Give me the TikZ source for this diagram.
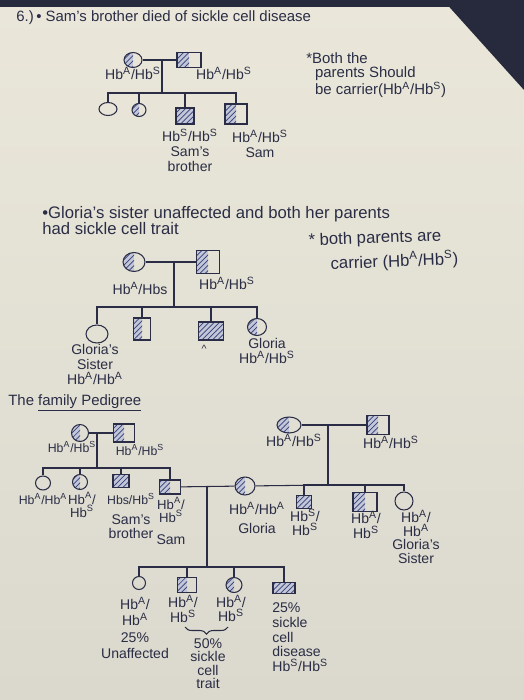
\documentclass[tikz,border=0pt]{standalone}
\usepackage{fontspec}
\setmainfont{Liberation Sans}
\usetikzlibrary{shapes.geometric,patterns,decorations.pathreplacing}
\definecolor{ink}{HTML}{2A2D45}
\definecolor{hatch}{HTML}{34407A}
\definecolor{paperA}{HTML}{EAE7DA}
\definecolor{paperB}{HTML}{DBD9CE}
\definecolor{desk}{HTML}{272A3D}
\newcommand{\hb}[1]{Hb\textsuperscript{#1}}

\begin{document}
\begin{tikzpicture}[x=0.02cm,y=-0.02cm]
    \tikzset{
        female/.style={draw=ink, ellipse, inner sep=0, line width=0.6pt},
        male/.style={draw=ink, rectangle, inner sep=0, line width=0.6pt},
        sz/.style 2 args={minimum width=#1*0.02cm, minimum height=#2*0.02cm},
        carrier/.style={path picture={
            \fill[hatch!30] (path picture bounding box.south west) rectangle (path picture bounding box.north);
            \fill[pattern=north east lines, pattern color=hatch] (path picture bounding box.south west) rectangle (path picture bounding box.north);}},
        affected/.style={path picture={
            \fill[hatch!30] (path picture bounding box.south west) rectangle (path picture bounding box.north east);
            \fill[pattern=north east lines, pattern color=hatch] (path picture bounding box.south west) rectangle (path picture bounding box.north east);}},
        lbl/.style={text=ink, inner sep=0, font=\fontsize{8}{8.5}\selectfont, align=center},
        small/.style={font=\fontsize{7}{8}\selectfont},
        note/.style={text=ink, inner sep=0, font=\fontsize{8.5}{8}\selectfont, align=left},
        head/.style={text=ink, inner sep=0, font=\fontsize{9.5}{9}\selectfont, align=left},
        link/.style={draw=ink, line width=0.6pt}
    }
    % paper
    \useasboundingbox (0,0) rectangle (524,700);
    \fill[top color=paperA, bottom color=paperB] (0,0) rectangle (524,700);
    \fill[desk] (0,0) rectangle (524,7);
    \fill[desk] (443,0) -- (524,0) -- (524,90) -- cycle;

    % Sam's family
    \draw node[head, anchor=west, font=\fontsize{8.5}{9}\selectfont] (t1) at (16,18) {6.)\,• Sam's brother died of sickle cell disease};
    \draw node[female, carrier, sz={18}{15}] (m1) at (133,60) {};
    \draw node[male, carrier, sz={24}{15}] (f1) at (189,60) {};
    \draw node[female, sz={18}{13}] (s1a) at (108,109) {};
    \draw node[female, carrier, sz={14}{13}] (s1b) at (139,110) {};
    \draw node[male, affected, sz={18}{16}] (s1c) at (185,116) {};
    \draw node[male, carrier, sz={22}{20}] (s1d) at (236,114) {};
    \coordinate (c1) at (162,60);
    \coordinate (d1) at (162,93);
    \draw node[lbl] (m1g) at (133,73) {\hb{A}/\hb{S}};
    \draw node[lbl] (f1g) at (224,73) {\hb{A}/\hb{S}};
    \draw node[lbl, anchor=north] (s1cg) at (190,129) {\hb{S}/\hb{S}\\Sam's\\brother};
    \draw node[lbl, anchor=north] (s1dg) at (260,130) {\hb{A}/\hb{S}\\Sam};
    \draw node[note, anchor=north west, font=\fontsize{8.5}{8.3}\selectfont] (n1) at (306,52) {*Both the\\\hspace*{5pt}parents Should\\\hspace*{5pt}be carrier(\hb{A}/\hb{S})};

    % Gloria's family
    \draw node[head, anchor=west] (t2) at (42,214) {•Gloria's sister unaffected and both her parents};
    \draw node[head, anchor=west] (t2b) at (42,229) {had sickle cell trait};
    \draw node[female, carrier, sz={22}{19}] (m2) at (134,262) {};
    \draw node[male, carrier, sz={23}{23}] (f2) at (208,262) {};
    \draw node[female, sz={22}{18}] (g2a) at (97,334) {};
    \draw node[male, carrier, sz={17}{22}] (g2b) at (142,329) {};
    \draw node[male, affected, sz={25}{18}] (g2c) at (211,331) {};
    \draw node[female, carrier, sz={19}{17}] (g2d) at (257,327) {};
    \coordinate (c2) at (174,262);
    \coordinate (d2) at (174,307);
    \draw node[lbl] (m2g) at (140,288) {\hb{A}/Hbs};
    \draw node[lbl] (f2g) at (227,283) {\hb{A}/\hb{S}};
    \draw node[lbl, font=\fontsize{6}{6}\selectfont] (mk) at (204,349) {\textasciicircum};
    \draw node[lbl, anchor=north, font=\fontsize{8}{8.4}\selectfont] (g2ag) at (95,344) {Gloria's\\Sister\\\hb{A}/\hb{A}};
    \draw node[lbl, anchor=north] (g2dg) at (267,338) {Gloria\\\hb{A}/\hb{S}};
    \draw node[head, anchor=north west, rotate=2] (n2) at (308,233) {* both parents are};
    \draw node[head, anchor=north west, rotate=2] (n2b) at (330,254) {carrier (\hb{A}/\hb{S})};

    % the family pedigree
    \draw node[note, anchor=west] (t3) at (8,403) {The \underline{family Pedigree}};
    \draw node[female, carrier, sz={17}{17}] (m3) at (80,433) {};
    \draw node[male, carrier, sz={21}{18}] (f3) at (124,433) {};
    \draw node[female, sz={15}{14}] (h1) at (43,483) {};
    \draw node[female, carrier, sz={15}{15}] (h2) at (80,482) {};
    \draw node[male, affected, sz={16}{13}] (h3) at (121,481) {};
    \draw node[male, carrier, sz={21}{14}] (sam) at (170,487) {};
    \draw node[female, carrier, sz={20}{18}] (g3) at (245,486) {};
    \draw node[female, carrier, sz={24}{16}] (m4) at (289,425) {};
    \draw node[male, carrier, sz={22}{19}] (f4) at (378,425) {};
    \draw node[male, affected, sz={15}{13}] (k1) at (304,502) {};
    \draw node[male, carrier, sz={24}{19}] (k2) at (365,502) {};
    \draw node[female, sz={18}{18}] (k3) at (404,501) {};
    \draw node[female, sz={13}{13}] (n1c) at (139,583) {};
    \draw node[male, carrier, sz={19}{15}] (n2c) at (187,585) {};
    \draw node[female, carrier, sz={16}{15}] (n3c) at (234,585) {};
    \draw node[male, affected, sz={22}{11}] (n4c) at (284,588) {};
    \coordinate (c3) at (97,433);
    \coordinate (d3) at (97,468);
    \coordinate (c4) at (207,487);
    \coordinate (d5) at (207,567);
    \coordinate (c5) at (328,425);
    \coordinate (d4) at (328,485);

    \draw node[lbl, small] (m3g) at (72,447) {\hb{A}/\hb{S}};
    \draw node[lbl, small] (f3g) at (140,450) {\hb{A}/\hb{S}};
    \draw node[lbl, small] (h1g) at (43,499) {\hb{A}/\hb{A}};
    \draw node[lbl, anchor=north, font=\fontsize{7.5}{7.5}\selectfont] (h2g) at (82,492) {\hb{A}/\\\hb{S}};
    \draw node[lbl, anchor=north, font=\fontsize{7}{8}\selectfont] (h3g) at (131,493) {Hbs/\hb{S}\\[3pt]\fontsize{8}{8}\selectfont Sam's\\\fontsize{8}{8}\selectfont brother};
    \draw node[lbl, anchor=north, font=\fontsize{7.5}{7.5}\selectfont] (samg) at (171,497) {\hb{A}/\\\hb{S}\\[5pt]\fontsize{8}{8}\selectfont Sam};
    \draw node[lbl, anchor=north] (g3g) at (257,502) {\hb{A}/\hb{A}\\[2pt]Gloria};
    \draw node[lbl] (m4g) at (294,440) {\hb{A}/\hb{S}};
    \draw node[lbl] (f4g) at (391,442) {\hb{A}/\hb{S}};
    \draw node[lbl, anchor=north, font=\fontsize{8}{8}\selectfont] (k1g) at (305,509) {\hb{S}/\\\hb{S}};
    \draw node[lbl, anchor=north, font=\fontsize{8}{8.3}\selectfont] (k2g) at (366,511) {\hb{A}/\\\hb{S}};
    \draw node[lbl, anchor=north, font=\fontsize{8}{7.8}\selectfont] (k3g) at (416,510) {\hb{A}/\\\hb{A}\\Gloria's\\Sister};
    \draw node[lbl, anchor=north, font=\fontsize{8}{9.3}\selectfont] (n1g) at (135,597) {\hb{A}/\\\hb{A}\\25\%\\Unaffected};
    \draw node[lbl, anchor=north] (n2g) at (183,595) {\hb{A}/\\\hb{S}};
    \draw node[lbl, anchor=north, font=\fontsize{8}{8}\selectfont] (n3g) at (231,595) {\hb{A}/\\\hb{S}};
    \draw node[lbl, anchor=north, font=\fontsize{8}{7.7}\selectfont] (trait) at (208,638) {50\%\\sickle\\cell\\trait};
    \draw node[lbl, anchor=north west, align=left] (n4g) at (272,602) {25\%\\sickle\\cell\\disease\\\hb{S}/\hb{S}};
    \draw[ink, line width=0.6pt, decorate, decoration={brace, mirror, amplitude=4pt}] (185,627) -- (228,627);

    % connectors
    \foreach \x/\y in {%
        m1/f1,c1/d1,m2/f2,c2/d2,m3/f3,c3/d3,sam/g3,c4/d5,m4/f4,c5/d4,g3/d4%
    }
    {
        \draw[link] (\x) -- (\y);
    }
    \foreach \p/\c in {%
        d1/s1a,d1/s1b,d1/s1c,d1/s1d,d2/g2a,d2/g2b,d2/g2c,d2/g2d,%
        d3/h1,d3/h2,d3/h3,d3/sam,d4/k1,d4/k2,d4/k3,%
        d5/n1c,d5/n2c,d5/n3c,d5/n4c%
    }
    {
        \draw[link] (\p) -| (\c);
    }
\end{tikzpicture}
\end{document}
